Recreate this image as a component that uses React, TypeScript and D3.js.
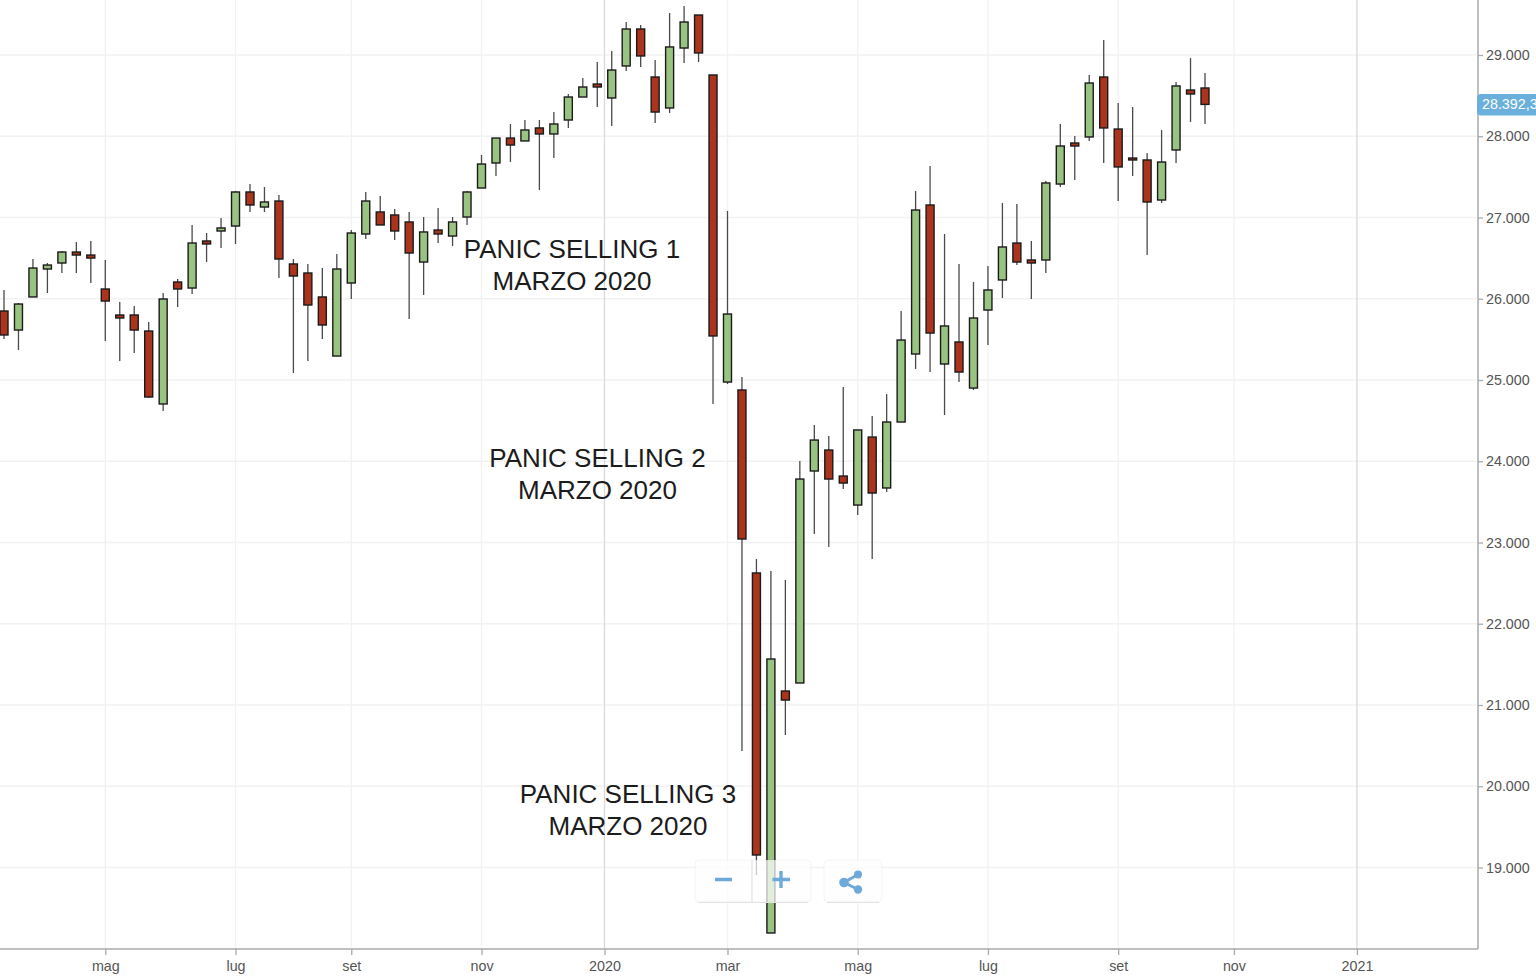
import { useEffect, useRef } from 'react';
import * as d3 from 'd3';

// weekly candles, values
const opens = [25849,25615,26022,26366,26440,26575,26538,26120,25800,25800,25603,24705,26206,26132,26711,26834,26895,27314,27129,27203,26428,26317,26022,25295,26194,26797,27068,27031,26945,26452,26846,26772,27006,27363,27671,27978,27942,28102,28028,28200,28483,28643,28471,28865,29320,28729,28348,29086,29492,28754,24975,24877,22625,18194,21172,21271,23880,24138,23818,23461,24298,23671,24483,25320,27154,25197,25468,24901,25861,26231,26686,26477,26477,27412,27917,27991,28729,28089,27732,27708,27215,27831,28569,28594];
const highs = [26108,25948,26489,26440,26588,26698,26711,26477,25960,25911,25714,26071,26243,26908,26809,26994,27326,27412,27375,27277,26489,26428,26378,26551,26846,27314,27265,27105,27068,27006,27117,27006,27326,27769,27978,28151,28200,28200,28298,28520,28717,28914,29049,29406,29369,28939,29517,29603,29492,28754,27080,25037,22797,22649,22538,24003,24446,24311,24914,24385,24557,24828,25849,27326,27634,26797,26428,26206,26403,27179,27166,26711,27449,28151,28003,28754,29185,28409,28360,27794,28077,28668,28963,28779];
const lows = [25505,25369,26022,26071,26317,26317,26194,25480,25234,25332,24778,24618,25898,26058,26452,26625,26674,27068,27068,26255,25086,25234,25505,25295,25997,26735,26908,26723,25751,26046,26686,26649,26908,27363,27511,27683,27942,27338,27732,28102,28483,28360,28126,28803,28852,28163,28286,28902,28914,24705,24951,20434,18907,18194,20631,21271,23105,22945,23658,23338,22797,23621,24483,25135,25098,24569,24975,24877,25431,26009,26415,25997,26317,27375,27462,27942,27671,27203,27511,26538,27178,27671,28175,28151];
const closes = [25554,25935,26378,26415,26575,26538,26501,25972,25763,25615,24791,25997,26120,26686,26674,26871,27314,27154,27191,26489,26280,25923,25677,26366,26809,27203,26908,26834,26563,26822,26797,26945,27314,27658,27978,27892,28077,28028,28151,28483,28606,28606,28815,29320,28988,28298,29099,29406,29025,25542,25812,23043,19154,21566,21061,23781,24261,23781,23732,24385,23609,24483,25492,27092,25578,25665,25098,25763,26108,26637,26452,26440,27425,27880,27880,28655,28102,27622,27708,27191,27683,28619,28520,28392];

const priceTicks = [19000,20000,21000,22000,23000,24000,25000,26000,27000,28000,29000];
const monthLabels = ['mag','lug','set','nov','2020','mar','mag','lug','set','nov','2021'];
// week index of each month start
const monthWeeks = [7,16,24,33,41.5,50,59,68,77,85,93.5];
const lastPrice = 28392.3;

const notes = [
  { cx: 572, y: 258, lines: ['PANIC SELLING 1', 'MARZO 2020'] },
  { cx: 597.5, y: 467, lines: ['PANIC SELLING 2', 'MARZO 2020'] },
  { cx: 628, y: 803, lines: ['PANIC SELLING 3', 'MARZO 2020'] },
];

const width = 1536;
const height = 979;
const axisX = 1478;
const axisY = 949;
const upColor = '#99c381';
const downColor = '#ab341c';
const btnColor = '#6fa9da';
const font = '"Liberation Sans", Arial, sans-serif';

const locale = d3.formatLocale({ decimal: ',', thousands: '.', grouping: [3], currency: ['', ''] });

export default function App() {
  const svgRef = useRef<SVGSVGElement>(null);

  useEffect(() => {
    if (!svgRef.current) return;

    const svg = d3.select(svgRef.current);
    svg.selectAll('*').remove();

    const x = d3.scaleLinear().domain([0, 83]).range([4, 1205]);
    const y = d3.scaleLinear().domain([19000, 29000]).range([867.5, 55]);

    // grid
    svg.append('g').selectAll('line')
      .data(priceTicks)
      .enter().append('line')
      .attr('x1', 0).attr('x2', axisX)
      .attr('y1', d => y(d)).attr('y2', d => y(d))
      .style('stroke', '#f2f2f2').style('stroke-width', 1.3);

    svg.append('g').selectAll('line')
      .data(monthWeeks)
      .enter().append('line')
      .attr('x1', d => x(d)).attr('x2', d => x(d))
      .attr('y1', 0).attr('y2', axisY)
      .style('stroke', (d, i) => (monthLabels[i].length === 4 ? '#d9d9d9' : '#f2f2f2'))
      .style('stroke-width', 1.3);

    // axes
    const yAxis = svg.append('g')
      .attr('transform', `translate(${axisX},0)`)
      .call(d3.axisRight(y).tickValues(priceTicks).tickSize(5).tickPadding(3).tickFormat(d => locale.format(',')(d as number)));
    const xAxis = svg.append('g')
      .attr('transform', `translate(0,${axisY})`)
      .call(d3.axisBottom(x).tickValues(monthWeeks).tickSize(6).tickPadding(6).tickFormat((d, i) => monthLabels[i]));

    [yAxis, xAxis].forEach(a => {
      a.select('.domain').remove();
      a.selectAll('line').style('stroke', '#aaa').style('stroke-width', 1.3);
      a.selectAll('text').style('font-family', font).style('font-size', '14.3px').style('fill', '#555');
    });
    svg.append('line').attr('x1', axisX).attr('x2', axisX).attr('y1', 0).attr('y2', axisY)
      .style('stroke', '#aaa').style('stroke-width', 1.5);
    svg.append('line').attr('x1', 0).attr('x2', axisX).attr('y1', axisY).attr('y2', axisY)
      .style('stroke', '#aaa').style('stroke-width', 1.5);

    // candles
    const candles = svg.append('g').selectAll('g')
      .data(d3.range(opens.length))
      .enter().append('g');

    candles.append('line')
      .attr('x1', i => x(i)).attr('x2', i => x(i))
      .attr('y1', i => y(highs[i])).attr('y2', i => y(lows[i]))
      .style('stroke', '#4a4a4a').style('stroke-width', 1.3);

    candles.append('rect')
      .attr('x', i => x(i) - 4)
      .attr('width', 8)
      .attr('y', i => y(Math.max(opens[i], closes[i])))
      .attr('height', i => Math.abs(y(opens[i]) - y(closes[i])))
      .style('fill', i => (closes[i] >= opens[i] ? upColor : downColor))
      .style('stroke', '#1a1a1a')
      .style('stroke-width', 1.4);

    // last price flag
    const flag = svg.append('g').attr('transform', `translate(1477,${y(lastPrice)})`);
    flag.append('rect').attr('x', 0).attr('y', -10.5).attr('width', 70).attr('height', 21.5).attr('rx', 4)
      .style('fill', '#6bb0dc');
    flag.append('text').attr('x', 5).attr('y', 5)
      .style('font-family', font).style('font-size', '14.3px').style('fill', '#fff')
      .text(locale.format(',.1f')(lastPrice));

    // notes
    notes.forEach(n => {
      n.lines.forEach((t, i) => {
        svg.append('text')
          .attr('x', n.cx).attr('y', n.y + i * 31.5)
          .attr('text-anchor', 'middle')
          .style('font-family', font).style('font-size', '26px').style('fill', '#1c1c1c')
          .text(t);
      });
    });

    // zoom and share buttons
    const btns = svg.append('g');
    [[695, 116], [824, 58]].forEach(([bx, bw]) => {
      btns.append('rect')
        .attr('x', bx).attr('y', 860).attr('width', bw).attr('height', 42).attr('rx', 4)
        .style('fill', 'rgba(254,254,254,0.72)')
        .style('stroke', 'rgba(0,0,0,0.04)');
      btns.append('line')
        .attr('x1', bx + 3).attr('x2', bx + bw - 3).attr('y1', 902.5).attr('y2', 902.5)
        .style('stroke', '#e2e2e2').style('stroke-width', 1.2);
    });
    btns.append('line').attr('x1', 752).attr('x2', 752).attr('y1', 860).attr('y2', 902)
      .style('stroke', '#ddd').style('stroke-width', 1);
    btns.append('path').attr('d', 'M715,879.5H732M772.5,879.5H790M781,871V888')
      .style('stroke', btnColor).style('stroke-width', 3.4).style('fill', 'none');
    btns.append('path').attr('d', 'M858,874.5L844,882.5L858,889.5')
      .style('stroke', btnColor).style('stroke-width', 3).style('fill', 'none');
    [[844, 882.5, 4.8], [858, 874.5, 4], [858, 889.5, 4.2]].forEach(([cx, cy, r]) => {
      btns.append('circle').attr('cx', cx).attr('cy', cy).attr('r', r).style('fill', btnColor);
    });
  }, []);

  return (
    <svg
      ref={svgRef}
      width={width}
      height={height}
      style={{ position: 'fixed', left: 0, top: 0, background: '#fff' }}
    />
  );
}
